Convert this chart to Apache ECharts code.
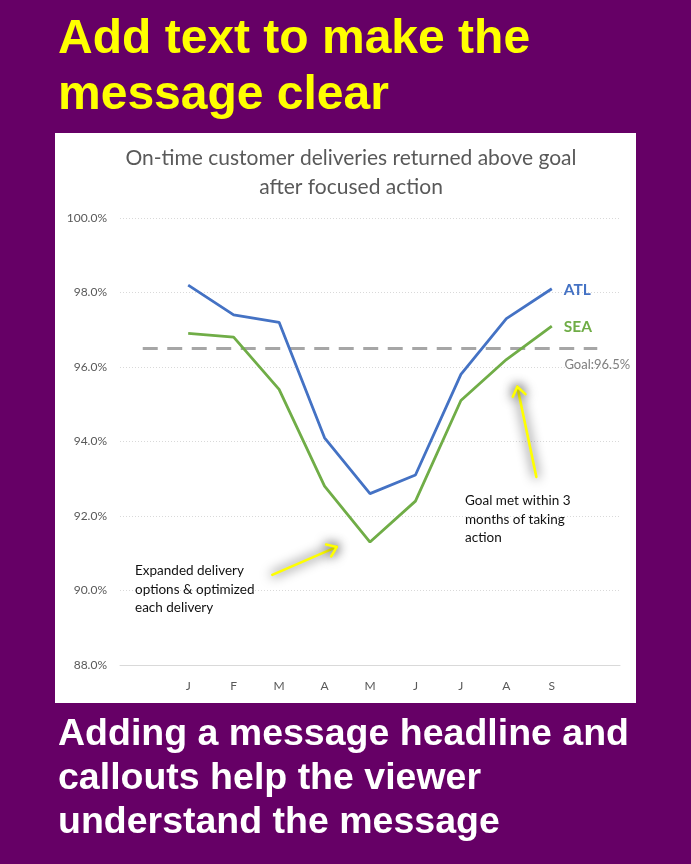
<!DOCTYPE html>
<html>
<head>
<meta charset="utf-8">
<script src="https://cdn.jsdelivr.net/npm/echarts@6/dist/echarts.min.js"></script>
<style>
html,body{margin:0;padding:0;background:#660066;}
#chart{width:691px;height:864px;}
</style>
</head>
<body>
<div id="chart"></div>
<script>
// ---- data ----
const months = ['J','F','M','A','M','J','J','A','S'];
const categories = [''].concat(months, ['']);
const atlValues = [98.2, 97.4, 97.2, 94.1, 92.6, 93.1, 95.8, 97.3, 98.1];
const seaValues = [96.9, 96.8, 95.4, 92.8, 91.3, 92.4, 95.1, 96.2, 97.1];
const goalValue = 96.5;
const yMin = 88, yMax = 100, yStep = 2;
const headline = ['Add text to make the', 'message clear'];
const footer = ['Adding a message headline and', 'callouts help the viewer', 'understand the message'];
const chartTitle = 'On-time customer deliveries returned above goal\nafter focused action';
const note1 = 'Expanded delivery\noptions & optimized\neach delivery';
const note2 = 'Goal met within 3\nmonths of taking\naction';
// annotation anchors in data space: [month index (J=0), value]
const note1Anchor = [-1.17, 90.78];
const note2Anchor = [6.09, 92.66];
const arrow1 = [[1.85, 90.42], [3.27, 91.17]];
const arrow2 = [[7.66, 93.05], [7.24, 95.47]];

const chart = echarts.init(document.getElementById('chart'));

function padSeries(vals, name, color) {
  const data = [null].concat(vals.map(function (v, i) {
    if (i === vals.length - 1) {
      return { value: v, label: { show: true, position: 'right', distance: 12,
        formatter: name, color: color, fontWeight: 'bold', fontSize: 15.5,
        fontFamily: 'Lato', offset: [0, 1] } };
    }
    return v;
  }), [null]);
  return {
    name: name, type: 'line', data: data, symbol: 'circle', symbolSize: 0.1, showSymbol: true, z: 5,
    lineStyle: { color: color, width: 2.8 }, itemStyle: { color: color },
    label: { show: false }, connectNulls: false
  };
}

const goalData = categories.map(function (c, i) {
  if (i === categories.length - 1) {
    return { value: goalValue, label: { show: true, position: 'bottom', distance: 10,
      formatter: 'Goal:' + goalValue.toFixed(1) + '%', color: '#7F7F7F',
      fontSize: 13, fontFamily: 'Lato' } };
  }
  return goalValue;
});

chart.setOption({
  backgroundColor: '#660066',
  animation: false,
  title: {
    text: chartTitle, left: 346, top: 139, textAlign: 'center',
    textStyle: { color: '#595959', fontSize: 21, fontWeight: 'normal', fontFamily: 'Lato', lineHeight: 29 }
  },
  grid: { left: 120, right: 71, top: 218, bottom: 199 },
  xAxis: {
    type: 'category', data: categories, boundaryGap: true,
    axisLine: { show: true, lineStyle: { color: '#D9D9D9', width: 1 } },
    axisTick: { show: false },
    axisLabel: { color: '#595959', fontSize: 12, fontFamily: 'Lato', margin: 15, interval: 0 },
    splitLine: { show: false }
  },
  yAxis: {
    type: 'value', min: yMin, max: yMax, interval: yStep,
    axisLine: { show: false }, axisTick: { show: false },
    axisLabel: { color: '#595959', fontSize: 12, fontFamily: 'Lato', margin: 13,
      formatter: function (v) { return v.toFixed(1) + '%'; } },
    splitLine: { lineStyle: { color: '#D9D9D9', type: [1, 2], width: 1 } }
  },
  series: [
    { name: 'Goal', type: 'line', data: goalData, symbol: 'circle', symbolSize: 0.1, showSymbol: true, z: 3,
      lineStyle: { color: '#A6A6A6', width: 3, type: [15, 9.5] }, itemStyle: { color: '#A6A6A6' } },
    padSeries(atlValues, 'ATL', '#4472C4'),
    padSeries(seaValues, 'SEA', '#70AD47')
  ]
});

function px(i, v) {
  const p0 = chart.convertToPixel({ gridIndex: 0 }, [1, v]);
  const p1 = chart.convertToPixel({ gridIndex: 0 }, [2, v]);
  return [p0[0] + (p1[0] - p0[0]) * i, p0[1]];
}

function arrowEls(a) {
  const t = px(a[0][0], a[0][1]);
  const h = px(a[1][0], a[1][1]);
  const ang = Math.atan2(h[1] - t[1], h[0] - t[0]);
  const len = 11, spread = Math.PI * 0.8;
  const w1 = [h[0] + len * Math.cos(ang + spread), h[1] + len * Math.sin(ang + spread)];
  const w2 = [h[0] + len * Math.cos(ang - spread), h[1] + len * Math.sin(ang - spread)];
  const st = { stroke: '#FFFF00', lineWidth: 2.6, fill: null, lineCap: 'round', lineJoin: 'round',
    shadowBlur: 12, shadowColor: 'rgba(0,0,0,1)' };
  return [
    { type: 'polyline', z: 20, shape: { points: [t, h] }, style: st },
    { type: 'polyline', z: 20, shape: { points: [w1, h, w2] }, style: st }
  ];
}

const n1 = px(note1Anchor[0], note1Anchor[1]);
const n2 = px(note2Anchor[0], note2Anchor[1]);

const elements = [
  { type: 'rect', z: -100, shape: { x: 55, y: 133, width: 581, height: 570 }, style: { fill: '#FFFFFF' } },
  { type: 'text', z: 10, x: 58, y: 0, style: { text: headline.join('\n'), x: 0, y: 12,
      font: 'bold 48px "Liberation Sans", Arial, sans-serif', fill: '#FFFF00', lineHeight: 56,
      verticalAlign: 'top' } },
  { type: 'text', z: 10, x: 58, y: 0, style: { text: footer.join('\n'), x: 0, y: 713,
      font: 'bold 37.5px "Liberation Sans", Arial, sans-serif', fill: '#FFFFFF', lineHeight: 44,
      verticalAlign: 'top' } },
  { type: 'text', z: 10, style: { text: note1, x: n1[0], y: n1[1],
      font: '13.5px Lato, sans-serif', fill: '#111111', lineHeight: 18.5, verticalAlign: 'top' } },
  { type: 'text', z: 10, style: { text: note2, x: n2[0], y: n2[1],
      font: '13.5px Lato, sans-serif', fill: '#111111', lineHeight: 18.5, verticalAlign: 'top' } }
].concat(arrowEls(arrow1), arrowEls(arrow2));

chart.setOption({ graphic: { elements: elements } });
</script>
</body>
</html>
